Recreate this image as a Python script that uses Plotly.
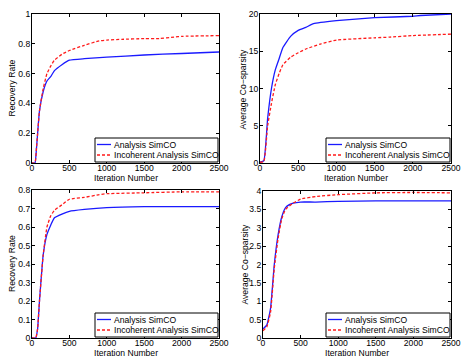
import plotly.graph_objects as go

# ---- data ----
x_tl_a = [0, 40, 60, 100, 150, 200, 250, 300, 400, 500, 700, 1000, 1500, 2000, 2500]
y_tl_a = [0, 0, 0.1, 0.35, 0.48, 0.55, 0.58, 0.62, 0.66, 0.69, 0.70, 0.71, 0.725, 0.735, 0.745]
x_tl_i = [0, 40, 60, 100, 150, 200, 250, 300, 400, 500, 700, 900, 1000, 1200, 1500, 1700, 1900, 2000, 2500]
y_tl_i = [0, 0, 0.1, 0.35, 0.50, 0.60, 0.65, 0.69, 0.73, 0.755, 0.79, 0.82, 0.825, 0.83, 0.835, 0.835, 0.845, 0.85, 0.855]

x_tr_a = [0, 50, 100, 150, 200, 250, 300, 400, 500, 600, 700, 1000, 1500, 2000, 2100, 2500]
y_tr_a = [0.1, 0.3, 6, 10, 12.5, 14, 15.5, 17, 17.8, 18.2, 18.7, 19.1, 19.5, 19.7, 19.8, 20]
x_tr_i = [0, 50, 100, 150, 200, 250, 300, 400, 500, 600, 800, 1000, 1500, 1700, 2000, 2500]
y_tr_i = [0.1, 0.2, 5, 8, 10.5, 12, 13.2, 14.2, 14.8, 15.3, 16, 16.5, 16.8, 16.9, 17.1, 17.3]

x_bl_a = [0, 50, 75, 100, 150, 200, 250, 300, 400, 500, 700, 1000, 1500, 2500]
y_bl_a = [0, 0, 0.05, 0.2, 0.45, 0.56, 0.61, 0.65, 0.67, 0.685, 0.695, 0.705, 0.71, 0.71]
x_bl_i = [0, 50, 75, 100, 150, 200, 250, 300, 400, 500, 700, 900, 1000, 1500, 2000, 2500]
y_bl_i = [0, 0, 0.05, 0.2, 0.45, 0.60, 0.66, 0.69, 0.72, 0.75, 0.76, 0.775, 0.78, 0.785, 0.79, 0.79]

x_br_a = [0, 50, 100, 150, 200, 250, 300, 350, 400, 500, 700, 1000, 1500, 2500]
y_br_a = [0.25, 0.35, 0.8, 2.0, 2.8, 3.3, 3.55, 3.63, 3.67, 3.70, 3.70, 3.72, 3.73, 3.73]
x_br_i = [0, 50, 100, 150, 200, 250, 300, 400, 500, 700, 1000, 1500, 2000, 2500]
y_br_i = [0.2, 0.3, 0.7, 1.9, 2.7, 3.25, 3.5, 3.67, 3.78, 3.85, 3.90, 3.95, 3.96, 3.95]

name_a = "Analysis SimCO"
name_i = "Incoherent Analysis SimCO"
x_title = "Iteration Number"
y_titles = ["Recovery Rate", "Average Co\u2212sparsity", "Recovery Rate", "Average Co\u2212sparsity"]
x_ticks = [0, 500, 1000, 1500, 2000, 2500]
y_ticks = [
    [0, 0.2, 0.4, 0.6, 0.8, 1],
    [0, 5, 10, 15, 20],
    [0, 0.1, 0.2, 0.3, 0.4, 0.5, 0.6, 0.7, 0.8],
    [0, 0.5, 1, 1.5, 2, 2.5, 3, 3.5, 4],
]
y_tick_text = [
    ["0", "0.2", "0.4", "0.6", "0.8", "1"],
    ["0", "5", "10", "15", "20"],
    ["0", "0.1", "0.2", "0.3", "0.4", "0.5", "0.6", "0.7", "0.8"],
    ["0", "0.5", "1", "1.5", "2", "2.5", "3", "3.5", "4"],
]
y_ranges = [[0, 1], [0, 20], [0, 0.8], [0, 4]]

W, H = 474, 358
FONT = "Liberation Sans, Arial, sans-serif"
FS = 8.6
BLUE = "#1a1aff"
RED = "#ff1a1a"

# plot areas in pixels: (left, right, top, bottom)
boxes = [(32, 219, 14, 163), (260, 451, 14, 163), (32, 219, 190, 338), (263, 451, 191, 338)]
# legend box size (px)
LEG_W = [123, 124, 123, 124]
LEG_H = 24
# y-title centre x (px)
ytitle_x = [12, 243, 12, 244]

data = [
    (x_tl_a, y_tl_a, x_tl_i, y_tl_i),
    (x_tr_a, y_tr_a, x_tr_i, y_tr_i),
    (x_bl_a, y_bl_a, x_bl_i, y_bl_i),
    (x_br_a, y_br_a, x_br_i, y_br_i),
]

def px(xp):
    return xp / W

def py(yp):
    return 1 - yp / H

fig = go.Figure()
layout = dict(
    width=W, height=H, margin=dict(l=0, r=0, t=0, b=0, autoexpand=False),
    paper_bgcolor="white", plot_bgcolor="white", showlegend=False,
    font=dict(family=FONT, size=FS, color="black"),
)
shapes = []
annotations = []

for k, (xa, ya, xi, yi) in enumerate(data):
    n = "" if k == 0 else str(k + 1)
    fig.add_trace(go.Scatter(x=xa, y=ya, mode="lines", name=name_a,
                             line=dict(color=BLUE, width=1.3, shape="spline", smoothing=0.4),
                             xaxis="x" + n, yaxis="y" + n))
    fig.add_trace(go.Scatter(x=xi, y=yi, mode="lines", name=name_i,
                             line=dict(color=RED, width=1.3, dash="3px,2px", shape="spline", smoothing=0.4),
                             xaxis="x" + n, yaxis="y" + n))
    l, r, t, b = boxes[k]
    axcommon = dict(showline=True, linecolor="black", linewidth=1, mirror="ticks",
                    ticks="inside", ticklen=3, tickcolor="black", showgrid=False,
                    zeroline=False, automargin=False, tickfont=dict(size=FS, family=FONT))
    layout["xaxis" + n] = dict(axcommon, domain=[px(l), px(r)], range=[0, 2500], tickvals=x_ticks,
                               anchor="y" + n, ticklabelstandoff=-3)
    layout["yaxis" + n] = dict(axcommon, domain=[py(b), py(t)], range=y_ranges[k], tickvals=y_ticks[k],
                               ticktext=y_tick_text[k], anchor="x" + n, ticklabelstandoff=-1)
    # axis titles
    annotations.append(dict(text=x_title, x=px((l + r) / 2), y=py(b + 14.5), xref="paper", yref="paper",
                            xanchor="center", yanchor="middle", showarrow=False, font=dict(size=FS)))
    annotations.append(dict(text=y_titles[k], x=px(ytitle_x[k]), y=py((t + b) / 2), xref="paper",
                            yref="paper", xanchor="center", yanchor="middle", textangle=-90,
                            showarrow=False, font=dict(size=FS)))
    # legend box
    lr, lb = r - 1, b - 1
    ll, lt = lr - LEG_W[k], lb - LEG_H
    shapes.append(dict(type="rect", xref="paper", yref="paper", x0=px(ll), x1=px(lr), y0=py(lb), y1=py(lt),
                       line=dict(color="black", width=1), fillcolor="white", layer="above"))
    for j, (nm, col, dash) in enumerate([(name_a, BLUE, "solid"), (name_i, RED, "3px,2px")]):
        yc = lt + 6.5 + j * 10.5
        shapes.append(dict(type="line", xref="paper", yref="paper", x0=px(ll + 2), x1=px(ll + 16),
                           y0=py(yc), y1=py(yc), line=dict(color=col, width=1.3, dash=dash), layer="above"))
        annotations.append(dict(text=nm, x=px(ll + 17), y=py(yc), xref="paper", yref="paper",
                                xanchor="left", yanchor="middle", showarrow=False, font=dict(size=FS)))

layout["shapes"] = shapes
layout["annotations"] = annotations
fig.update_layout(**layout)
fig.write_html("out.html", config={"displayModeBar": False},
               post_script="document.body.style.margin='0';document.body.style.overflow='hidden';")
